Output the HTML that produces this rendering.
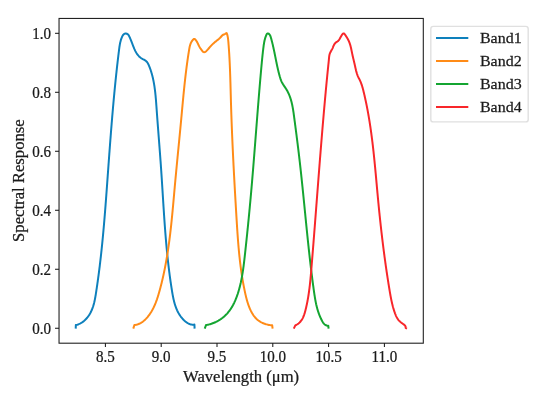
<!DOCTYPE html><html><head><meta charset="utf-8"><title>Spectral Response</title><style>html,body{margin:0;padding:0;background:#fff;width:550px;height:402px;overflow:hidden}svg{display:block}text{font-family:"Liberation Serif", "DejaVu Serif", serif;fill:#1a1a1a;stroke:#1a1a1a;stroke-width:0.25px}</style></head><body>
<svg width="550" height="402" viewBox="0 0 550 402">
<rect x="0" y="0" width="550" height="402" fill="#fff"/>
<g fill="none" stroke-width="2.00" stroke-linejoin="round" stroke-linecap="butt">
<path d="M75.70,328.60 L75.85,325.07 L76.56,324.89 L77.25,324.68 L77.93,324.45 L78.60,324.20 L79.25,323.92 L79.89,323.62 L80.51,323.30 L81.13,322.96 L81.72,322.60 L82.30,322.21 L82.87,321.81 L83.43,321.40 L83.97,320.96 L84.49,320.51 L85.01,320.04 L85.51,319.55 L85.99,319.06 L86.47,318.54 L86.92,318.02 L87.37,317.48 L87.80,316.93 L88.22,316.36 L88.62,315.79 L89.02,315.21 L89.39,314.62 L89.76,314.02 L90.11,313.41 L90.45,312.79 L90.77,312.17 L91.08,311.55 L91.38,310.91 L91.67,310.28 L91.94,309.64 L92.20,308.99 L92.45,308.34 L92.69,307.69 L92.92,307.03 L93.14,306.37 L93.34,305.71 L93.54,305.04 L93.73,304.37 L93.91,303.70 L94.09,303.03 L94.25,302.35 L94.41,301.67 L94.56,300.99 L94.71,300.31 L94.85,299.62 L94.98,298.93 L95.11,298.24 L95.24,297.55 L95.36,296.86 L95.48,296.17 L95.60,295.48 L95.71,294.79 L95.82,294.09 L95.93,293.40 L96.04,292.70 L96.15,292.01 L96.25,291.31 L96.36,290.62 L96.47,289.93 L96.57,289.23 L96.68,288.54 L96.78,287.84 L96.88,287.15 L96.99,286.45 L97.09,285.76 L97.19,285.07 L97.29,284.37 L97.39,283.68 L97.49,282.98 L97.59,282.29 L97.69,281.59 L97.78,280.90 L97.88,280.20 L97.98,279.51 L98.07,278.82 L98.17,278.12 L98.26,277.43 L98.35,276.73 L98.45,276.04 L98.54,275.34 L98.63,274.65 L98.72,273.95 L98.81,273.26 L98.90,272.56 L98.99,271.87 L99.08,271.17 L99.17,270.48 L99.26,269.79 L99.35,269.09 L99.43,268.40 L99.52,267.70 L99.61,267.01 L99.69,266.31 L99.78,265.62 L99.86,264.92 L99.94,264.23 L100.03,263.53 L100.11,262.84 L100.19,262.14 L100.27,261.45 L100.35,260.75 L100.43,260.06 L100.51,259.36 L100.59,258.67 L100.67,257.97 L100.75,257.28 L100.83,256.58 L100.91,255.89 L100.98,255.19 L101.06,254.50 L101.14,253.80 L101.21,253.11 L101.29,252.41 L101.36,251.72 L101.44,251.02 L101.51,250.33 L101.58,249.63 L101.66,248.94 L101.73,248.24 L101.80,247.55 L101.87,246.85 L101.95,246.16 L102.02,245.46 L102.09,244.77 L102.16,244.07 L102.23,243.38 L102.30,242.68 L102.36,241.98 L102.43,241.29 L102.50,240.59 L102.57,239.90 L102.64,239.20 L102.70,238.51 L102.77,237.81 L102.84,237.12 L102.90,236.42 L102.97,235.72 L103.03,235.03 L103.10,234.33 L103.16,233.64 L103.23,232.94 L103.29,232.25 L103.35,231.55 L103.42,230.86 L103.48,230.16 L103.54,229.46 L103.60,228.77 L103.67,228.07 L103.73,227.38 L103.79,226.68 L103.85,225.98 L103.91,225.29 L103.97,224.59 L104.03,223.90 L104.09,223.20 L104.15,222.50 L104.21,221.81 L104.27,221.11 L104.33,220.42 L104.39,219.72 L104.44,219.02 L104.50,218.33 L104.56,217.63 L104.62,216.94 L104.67,216.24 L104.73,215.54 L104.79,214.85 L104.84,214.15 L104.90,213.45 L104.96,212.76 L105.01,212.06 L105.07,211.36 L105.12,210.67 L105.18,209.97 L105.23,209.27 L105.29,208.58 L105.34,207.88 L105.40,207.18 L105.45,206.49 L105.51,205.79 L105.56,205.09 L105.61,204.40 L105.67,203.70 L105.72,203.00 L105.77,202.31 L105.83,201.61 L105.88,200.91 L105.93,200.22 L105.99,199.52 L106.04,198.82 L106.09,198.13 L106.14,197.43 L106.20,196.73 L106.25,196.03 L106.30,195.34 L106.35,194.64 L106.40,193.94 L106.46,193.25 L106.51,192.55 L106.56,191.85 L106.61,191.15 L106.66,190.46 L106.71,189.76 L106.76,189.06 L106.81,188.36 L106.86,187.67 L106.92,186.97 L106.97,186.27 L107.02,185.57 L107.07,184.88 L107.12,184.18 L107.17,183.48 L107.22,182.78 L107.27,182.08 L107.32,181.39 L107.37,180.69 L107.42,179.99 L107.47,179.29 L107.52,178.59 L107.57,177.90 L107.62,177.20 L107.67,176.50 L107.72,175.80 L107.77,175.10 L107.82,174.41 L107.88,173.71 L107.93,173.01 L107.98,172.31 L108.03,171.61 L108.08,170.91 L108.13,170.22 L108.18,169.52 L108.23,168.82 L108.28,168.12 L108.33,167.42 L108.38,166.72 L108.43,166.02 L108.48,165.33 L108.53,164.63 L108.58,163.93 L108.63,163.23 L108.69,162.53 L108.74,161.83 L108.79,161.13 L108.84,160.43 L108.89,159.73 L108.94,159.04 L108.99,158.34 L109.04,157.64 L109.09,156.94 L109.15,156.24 L109.20,155.54 L109.25,154.84 L109.30,154.14 L109.35,153.44 L109.40,152.75 L109.46,152.05 L109.51,151.35 L109.56,150.65 L109.61,149.95 L109.66,149.25 L109.72,148.55 L109.77,147.85 L109.82,147.15 L109.87,146.45 L109.93,145.76 L109.98,145.06 L110.03,144.36 L110.08,143.66 L110.14,142.96 L110.19,142.26 L110.24,141.56 L110.30,140.86 L110.35,140.16 L110.40,139.46 L110.46,138.77 L110.51,138.07 L110.57,137.37 L110.62,136.67 L110.67,135.97 L110.73,135.27 L110.78,134.57 L110.84,133.87 L110.89,133.17 L110.95,132.47 L111.00,131.78 L111.06,131.08 L111.11,130.38 L111.17,129.68 L111.22,128.98 L111.28,128.28 L111.34,127.58 L111.39,126.88 L111.45,126.19 L111.50,125.49 L111.56,124.79 L111.62,124.09 L111.67,123.39 L111.73,122.69 L111.79,121.99 L111.85,121.30 L111.90,120.60 L111.96,119.90 L112.02,119.20 L112.08,118.50 L112.14,117.80 L112.19,117.11 L112.25,116.41 L112.31,115.71 L112.37,115.01 L112.43,114.31 L112.49,113.61 L112.55,112.92 L112.61,112.22 L112.67,111.52 L112.73,110.82 L112.79,110.12 L112.85,109.43 L112.91,108.73 L112.97,108.03 L113.03,107.33 L113.09,106.64 L113.16,105.94 L113.22,105.24 L113.28,104.54 L113.34,103.85 L113.41,103.15 L113.47,102.45 L113.53,101.75 L113.59,101.06 L113.66,100.36 L113.72,99.66 L113.79,98.97 L113.85,98.27 L113.91,97.57 L113.98,96.88 L114.04,96.18 L114.11,95.48 L114.18,94.79 L114.24,94.09 L114.31,93.39 L114.37,92.70 L114.44,92.00 L114.51,91.30 L114.57,90.61 L114.64,89.91 L114.71,89.21 L114.78,88.52 L114.84,87.82 L114.91,87.13 L114.98,86.43 L115.05,85.74 L115.12,85.04 L115.19,84.34 L115.26,83.65 L115.33,82.95 L115.40,82.26 L115.47,81.56 L115.54,80.87 L115.61,80.17 L115.68,79.48 L115.76,78.78 L115.83,78.09 L115.90,77.39 L115.97,76.70 L116.05,76.01 L116.12,75.31 L116.19,74.62 L116.27,73.92 L116.34,73.23 L116.42,72.53 L116.49,71.84 L116.57,71.15 L116.64,70.45 L116.72,69.76 L116.80,69.07 L116.87,68.37 L116.95,67.68 L117.03,66.99 L117.10,66.29 L117.18,65.60 L117.26,64.91 L117.34,64.21 L117.42,63.52 L117.50,62.83 L117.58,62.14 L117.66,61.44 L117.74,60.75 L117.82,60.06 L117.90,59.37 L117.98,58.68 L118.06,57.98 L118.15,57.29 L118.23,56.60 L118.31,55.91 L118.39,55.22 L118.48,54.53 L118.56,53.84 L118.65,53.14 L118.73,52.45 L118.82,51.76 L118.90,51.07 L118.99,50.38 L119.08,49.69 L119.16,49.00 L119.25,48.31 L119.34,47.62 L119.44,46.93 L119.54,46.24 L119.65,45.55 L119.77,44.87 L119.89,44.18 L120.02,43.49 L120.17,42.80 L120.33,42.12 L120.50,41.43 L120.68,40.75 L120.88,40.06 L121.09,39.38 L121.33,38.70 L121.58,38.01 L121.85,37.33 L122.15,36.65 L122.47,35.99 L122.82,35.37 L123.22,34.81 L123.68,34.33 L124.19,33.95 L124.76,33.69 L125.41,33.56 L126.08,33.58 L126.75,33.72 L127.38,34.00 L127.94,34.40 L128.41,34.92 L128.81,35.53 L129.16,36.19 L129.48,36.86 L129.78,37.51 L130.06,38.16 L130.34,38.79 L130.61,39.42 L130.87,40.04 L131.12,40.67 L131.38,41.30 L131.62,41.94 L131.87,42.59 L132.12,43.24 L132.37,43.90 L132.62,44.56 L132.87,45.23 L133.12,45.89 L133.38,46.55 L133.65,47.22 L133.92,47.88 L134.20,48.53 L134.48,49.19 L134.78,49.83 L135.09,50.47 L135.40,51.10 L135.73,51.72 L136.07,52.33 L136.43,52.93 L136.80,53.51 L137.18,54.08 L137.59,54.63 L138.01,55.17 L138.44,55.69 L138.90,56.19 L139.38,56.67 L139.88,57.13 L140.40,57.56 L140.95,57.97 L141.52,58.36 L142.11,58.72 L142.72,59.06 L143.35,59.39 L143.97,59.72 L144.57,60.06 L145.16,60.41 L145.71,60.80 L146.22,61.23 L146.68,61.70 L147.10,62.21 L147.49,62.75 L147.85,63.32 L148.17,63.91 L148.48,64.52 L148.76,65.14 L149.03,65.78 L149.29,66.42 L149.55,67.06 L149.79,67.70 L150.03,68.35 L150.27,69.00 L150.50,69.65 L150.72,70.30 L150.93,70.95 L151.14,71.61 L151.34,72.27 L151.54,72.93 L151.73,73.59 L151.92,74.25 L152.10,74.92 L152.28,75.58 L152.45,76.25 L152.61,76.92 L152.77,77.59 L152.93,78.26 L153.08,78.94 L153.22,79.61 L153.36,80.29 L153.50,80.97 L153.63,81.65 L153.76,82.33 L153.88,83.01 L154.00,83.70 L154.12,84.38 L154.23,85.07 L154.34,85.75 L154.45,86.44 L154.55,87.13 L154.65,87.82 L154.74,88.51 L154.83,89.20 L154.92,89.90 L155.01,90.59 L155.09,91.28 L155.17,91.98 L155.25,92.68 L155.33,93.37 L155.40,94.07 L155.47,94.77 L155.54,95.47 L155.61,96.17 L155.67,96.87 L155.73,97.57 L155.80,98.27 L155.86,98.97 L155.92,99.67 L155.97,100.37 L156.03,101.07 L156.08,101.78 L156.14,102.48 L156.19,103.18 L156.24,103.88 L156.29,104.59 L156.35,105.29 L156.40,105.99 L156.45,106.70 L156.50,107.40 L156.55,108.10 L156.60,108.81 L156.65,109.51 L156.70,110.21 L156.75,110.92 L156.80,111.62 L156.85,112.32 L156.90,113.02 L156.95,113.73 L157.00,114.43 L157.06,115.13 L157.11,115.83 L157.16,116.53 L157.21,117.24 L157.26,117.94 L157.32,118.64 L157.37,119.34 L157.42,120.04 L157.47,120.74 L157.53,121.44 L157.58,122.14 L157.63,122.84 L157.69,123.54 L157.74,124.24 L157.79,124.94 L157.85,125.64 L157.90,126.34 L157.95,127.04 L158.01,127.74 L158.06,128.44 L158.11,129.14 L158.17,129.84 L158.22,130.54 L158.28,131.24 L158.33,131.94 L158.38,132.64 L158.44,133.34 L158.49,134.04 L158.54,134.74 L158.60,135.44 L158.65,136.13 L158.71,136.83 L158.76,137.53 L158.81,138.23 L158.87,138.93 L158.92,139.63 L158.98,140.33 L159.03,141.02 L159.08,141.72 L159.14,142.42 L159.19,143.12 L159.25,143.82 L159.30,144.51 L159.35,145.21 L159.41,145.91 L159.46,146.61 L159.51,147.30 L159.57,148.00 L159.62,148.70 L159.67,149.40 L159.73,150.09 L159.78,150.79 L159.83,151.49 L159.88,152.18 L159.94,152.88 L159.99,153.58 L160.04,154.28 L160.09,154.97 L160.14,155.67 L160.20,156.37 L160.25,157.06 L160.30,157.76 L160.35,158.46 L160.40,159.15 L160.45,159.85 L160.50,160.55 L160.56,161.24 L160.61,161.94 L160.66,162.64 L160.71,163.33 L160.76,164.03 L160.81,164.73 L160.86,165.42 L160.90,166.12 L160.95,166.82 L161.00,167.51 L161.05,168.21 L161.10,168.91 L161.15,169.60 L161.19,170.30 L161.24,171.00 L161.29,171.69 L161.34,172.39 L161.38,173.09 L161.43,173.78 L161.48,174.48 L161.52,175.18 L161.57,175.87 L161.62,176.57 L161.66,177.27 L161.71,177.96 L161.75,178.66 L161.80,179.35 L161.84,180.05 L161.89,180.75 L161.93,181.44 L161.98,182.14 L162.02,182.84 L162.06,183.53 L162.11,184.23 L162.15,184.93 L162.20,185.62 L162.24,186.32 L162.29,187.02 L162.33,187.71 L162.37,188.41 L162.42,189.11 L162.46,189.80 L162.50,190.50 L162.55,191.19 L162.59,191.89 L162.63,192.59 L162.68,193.28 L162.72,193.98 L162.76,194.68 L162.81,195.37 L162.85,196.07 L162.89,196.77 L162.94,197.46 L162.98,198.16 L163.03,198.86 L163.07,199.55 L163.11,200.25 L163.16,200.95 L163.20,201.64 L163.24,202.34 L163.29,203.03 L163.33,203.73 L163.38,204.43 L163.42,205.12 L163.46,205.82 L163.51,206.52 L163.55,207.21 L163.60,207.91 L163.64,208.61 L163.69,209.30 L163.73,210.00 L163.78,210.70 L163.83,211.39 L163.87,212.09 L163.92,212.79 L163.96,213.48 L164.01,214.18 L164.06,214.88 L164.10,215.57 L164.15,216.27 L164.20,216.97 L164.24,217.66 L164.29,218.36 L164.34,219.06 L164.39,219.75 L164.44,220.45 L164.49,221.15 L164.53,221.84 L164.58,222.54 L164.63,223.24 L164.68,223.93 L164.73,224.63 L164.78,225.33 L164.83,226.02 L164.89,226.72 L164.94,227.42 L164.99,228.11 L165.04,228.81 L165.09,229.51 L165.15,230.20 L165.20,230.90 L165.25,231.60 L165.31,232.29 L165.36,232.99 L165.42,233.69 L165.47,234.38 L165.53,235.08 L165.59,235.78 L165.64,236.47 L165.70,237.17 L165.76,237.87 L165.81,238.57 L165.87,239.26 L165.93,239.96 L165.99,240.66 L166.05,241.35 L166.11,242.05 L166.17,242.75 L166.23,243.44 L166.30,244.14 L166.36,244.84 L166.42,245.53 L166.48,246.23 L166.55,246.93 L166.61,247.63 L166.68,248.32 L166.74,249.02 L166.81,249.72 L166.88,250.41 L166.94,251.11 L167.01,251.81 L167.08,252.51 L167.15,253.20 L167.22,253.90 L167.29,254.60 L167.36,255.29 L167.43,255.99 L167.51,256.69 L167.58,257.39 L167.65,258.08 L167.73,258.78 L167.80,259.48 L167.88,260.18 L167.95,260.87 L168.03,261.57 L168.11,262.27 L168.19,262.97 L168.27,263.66 L168.35,264.36 L168.43,265.06 L168.51,265.76 L168.59,266.45 L168.67,267.15 L168.76,267.85 L168.84,268.55 L168.93,269.24 L169.01,269.94 L169.10,270.64 L169.19,271.34 L169.28,272.03 L169.36,272.73 L169.45,273.43 L169.55,274.13 L169.64,274.82 L169.73,275.52 L169.82,276.22 L169.92,276.92 L170.01,277.62 L170.11,278.31 L170.21,279.01 L170.30,279.71 L170.40,280.41 L170.50,281.11 L170.60,281.80 L170.70,282.50 L170.81,283.20 L170.91,283.90 L171.01,284.60 L171.12,285.29 L171.22,285.99 L171.33,286.69 L171.44,287.39 L171.55,288.09 L171.66,288.78 L171.77,289.48 L171.88,290.18 L171.99,290.88 L172.11,291.58 L172.22,292.27 L172.34,292.97 L172.46,293.67 L172.58,294.36 L172.71,295.06 L172.84,295.75 L172.97,296.44 L173.11,297.13 L173.25,297.82 L173.39,298.51 L173.54,299.20 L173.70,299.88 L173.86,300.56 L174.03,301.24 L174.20,301.91 L174.38,302.58 L174.56,303.25 L174.75,303.92 L174.95,304.58 L175.16,305.24 L175.38,305.89 L175.60,306.54 L175.83,307.19 L176.07,307.83 L176.32,308.47 L176.58,309.10 L176.85,309.73 L177.13,310.35 L177.43,310.97 L177.73,311.58 L178.04,312.18 L178.36,312.78 L178.70,313.38 L179.05,313.97 L179.41,314.55 L179.78,315.13 L180.17,315.69 L180.57,316.26 L180.98,316.81 L181.41,317.36 L181.85,317.90 L182.30,318.43 L182.78,318.96 L183.26,319.48 L183.76,319.99 L184.28,320.49 L184.81,320.97 L185.36,321.44 L185.92,321.89 L186.50,322.31 L187.09,322.71 L187.69,323.09 L188.31,323.43 L188.94,323.73 L189.58,324.00 L190.23,324.23 L190.90,324.42 L191.58,324.56 L192.27,324.65 L192.98,324.70 L193.69,324.68 L194.42,324.61 L194.60,328.60" stroke="#0e80bc"/>
<path d="M133.30,328.60 L134.38,325.01 L135.11,324.93 L135.82,324.82 L136.51,324.67 L137.20,324.50 L137.87,324.29 L138.52,324.05 L139.17,323.79 L139.79,323.50 L140.41,323.18 L141.01,322.84 L141.61,322.48 L142.18,322.10 L142.75,321.69 L143.30,321.27 L143.85,320.82 L144.38,320.36 L144.89,319.89 L145.40,319.40 L145.90,318.90 L146.38,318.38 L146.85,317.86 L147.32,317.33 L147.77,316.78 L148.21,316.24 L148.64,315.68 L149.06,315.12 L149.47,314.55 L149.87,313.98 L150.26,313.41 L150.64,312.82 L151.01,312.24 L151.37,311.64 L151.73,311.05 L152.07,310.44 L152.41,309.84 L152.74,309.22 L153.06,308.61 L153.38,307.99 L153.68,307.36 L153.98,306.74 L154.27,306.11 L154.56,305.47 L154.84,304.83 L155.11,304.19 L155.38,303.54 L155.64,302.90 L155.89,302.24 L156.14,301.59 L156.38,300.93 L156.62,300.28 L156.86,299.61 L157.08,298.95 L157.31,298.29 L157.53,297.62 L157.75,296.95 L157.96,296.28 L158.17,295.61 L158.37,294.93 L158.57,294.26 L158.77,293.58 L158.97,292.91 L159.16,292.23 L159.35,291.55 L159.54,290.87 L159.73,290.19 L159.92,289.51 L160.10,288.83 L160.28,288.15 L160.46,287.47 L160.64,286.79 L160.82,286.11 L160.99,285.43 L161.17,284.75 L161.34,284.07 L161.51,283.39 L161.68,282.71 L161.84,282.03 L162.01,281.35 L162.17,280.66 L162.33,279.98 L162.49,279.30 L162.65,278.61 L162.81,277.93 L162.96,277.25 L163.12,276.56 L163.27,275.88 L163.42,275.20 L163.57,274.51 L163.72,273.83 L163.87,273.14 L164.01,272.46 L164.15,271.77 L164.30,271.09 L164.44,270.40 L164.58,269.72 L164.71,269.03 L164.85,268.34 L164.98,267.66 L165.12,266.97 L165.25,266.28 L165.38,265.60 L165.51,264.91 L165.64,264.22 L165.77,263.54 L165.89,262.85 L166.02,262.16 L166.14,261.47 L166.26,260.78 L166.38,260.09 L166.50,259.41 L166.62,258.72 L166.74,258.03 L166.85,257.34 L166.97,256.65 L167.08,255.96 L167.19,255.27 L167.30,254.58 L167.41,253.89 L167.52,253.20 L167.63,252.51 L167.74,251.82 L167.84,251.13 L167.95,250.44 L168.05,249.75 L168.15,249.06 L168.26,248.36 L168.36,247.67 L168.46,246.98 L168.55,246.29 L168.65,245.60 L168.75,244.91 L168.84,244.21 L168.94,243.52 L169.03,242.83 L169.13,242.14 L169.22,241.44 L169.31,240.75 L169.40,240.06 L169.49,239.37 L169.58,238.67 L169.67,237.98 L169.75,237.29 L169.84,236.59 L169.92,235.90 L170.01,235.20 L170.09,234.51 L170.18,233.82 L170.26,233.12 L170.34,232.43 L170.42,231.73 L170.50,231.04 L170.58,230.34 L170.66,229.65 L170.74,228.95 L170.82,228.26 L170.89,227.56 L170.97,226.87 L171.05,226.17 L171.12,225.48 L171.20,224.78 L171.27,224.09 L171.34,223.39 L171.42,222.70 L171.49,222.00 L171.56,221.31 L171.63,220.61 L171.70,219.91 L171.77,219.22 L171.84,218.52 L171.91,217.83 L171.98,217.13 L172.05,216.43 L172.12,215.74 L172.19,215.04 L172.26,214.34 L172.32,213.65 L172.39,212.95 L172.46,212.25 L172.52,211.56 L172.59,210.86 L172.65,210.16 L172.72,209.47 L172.78,208.77 L172.85,208.07 L172.91,207.37 L172.98,206.68 L173.04,205.98 L173.11,205.28 L173.17,204.59 L173.23,203.89 L173.30,203.19 L173.36,202.49 L173.42,201.80 L173.48,201.10 L173.55,200.40 L173.61,199.70 L173.67,199.01 L173.73,198.31 L173.80,197.61 L173.86,196.91 L173.92,196.22 L173.98,195.52 L174.05,194.82 L174.11,194.12 L174.17,193.42 L174.23,192.73 L174.29,192.03 L174.36,191.33 L174.42,190.63 L174.48,189.94 L174.54,189.24 L174.61,188.54 L174.67,187.84 L174.73,187.15 L174.79,186.45 L174.86,185.75 L174.92,185.05 L174.98,184.35 L175.05,183.66 L175.11,182.96 L175.18,182.26 L175.24,181.56 L175.30,180.87 L175.37,180.17 L175.43,179.47 L175.50,178.77 L175.56,178.08 L175.63,177.38 L175.69,176.68 L175.76,175.98 L175.82,175.29 L175.89,174.59 L175.95,173.89 L176.02,173.19 L176.09,172.50 L176.15,171.80 L176.22,171.10 L176.28,170.40 L176.35,169.71 L176.42,169.01 L176.48,168.31 L176.55,167.61 L176.62,166.92 L176.68,166.22 L176.75,165.52 L176.82,164.82 L176.89,164.13 L176.95,163.43 L177.02,162.73 L177.09,162.03 L177.16,161.34 L177.22,160.64 L177.29,159.94 L177.36,159.25 L177.43,158.55 L177.49,157.85 L177.56,157.15 L177.63,156.46 L177.70,155.76 L177.76,155.06 L177.83,154.37 L177.90,153.67 L177.97,152.97 L178.04,152.27 L178.10,151.58 L178.17,150.88 L178.24,150.18 L178.31,149.49 L178.38,148.79 L178.44,148.09 L178.51,147.40 L178.58,146.70 L178.65,146.00 L178.72,145.31 L178.78,144.61 L178.85,143.91 L178.92,143.22 L178.99,142.52 L179.06,141.82 L179.12,141.13 L179.19,140.43 L179.26,139.73 L179.33,139.04 L179.39,138.34 L179.46,137.64 L179.53,136.95 L179.60,136.25 L179.66,135.55 L179.73,134.86 L179.80,134.16 L179.87,133.46 L179.93,132.77 L180.00,132.07 L180.07,131.37 L180.13,130.68 L180.20,129.98 L180.27,129.29 L180.33,128.59 L180.40,127.89 L180.47,127.20 L180.53,126.50 L180.60,125.80 L180.66,125.11 L180.73,124.41 L180.80,123.72 L180.86,123.02 L180.93,122.32 L180.99,121.63 L181.06,120.93 L181.12,120.24 L181.19,119.54 L181.25,118.84 L181.32,118.15 L181.38,117.45 L181.45,116.76 L181.51,116.06 L181.58,115.37 L181.64,114.67 L181.70,113.97 L181.77,113.28 L181.83,112.58 L181.90,111.89 L181.96,111.19 L182.02,110.50 L182.09,109.80 L182.15,109.10 L182.22,108.41 L182.28,107.71 L182.35,107.02 L182.41,106.32 L182.47,105.63 L182.54,104.93 L182.60,104.24 L182.67,103.54 L182.73,102.85 L182.80,102.15 L182.86,101.45 L182.93,100.76 L183.00,100.06 L183.06,99.37 L183.13,98.67 L183.20,97.98 L183.26,97.28 L183.33,96.59 L183.40,95.89 L183.46,95.20 L183.53,94.50 L183.60,93.81 L183.67,93.11 L183.74,92.42 L183.81,91.72 L183.88,91.03 L183.95,90.33 L184.02,89.64 L184.09,88.94 L184.16,88.25 L184.23,87.55 L184.30,86.86 L184.38,86.16 L184.45,85.47 L184.52,84.77 L184.60,84.07 L184.67,83.38 L184.75,82.68 L184.82,81.99 L184.90,81.29 L184.97,80.60 L185.05,79.90 L185.13,79.21 L185.21,78.51 L185.29,77.82 L185.37,77.12 L185.45,76.43 L185.53,75.73 L185.61,75.04 L185.69,74.34 L185.77,73.65 L185.86,72.95 L185.94,72.26 L186.03,71.56 L186.11,70.87 L186.20,70.17 L186.29,69.48 L186.37,68.78 L186.46,68.09 L186.55,67.39 L186.64,66.70 L186.73,66.00 L186.83,65.31 L186.92,64.61 L187.01,63.92 L187.11,63.22 L187.20,62.53 L187.30,61.83 L187.40,61.14 L187.50,60.44 L187.59,59.75 L187.69,59.05 L187.80,58.36 L187.90,57.66 L188.00,56.97 L188.11,56.27 L188.21,55.57 L188.32,54.88 L188.42,54.18 L188.53,53.49 L188.64,52.79 L188.75,52.10 L188.86,51.40 L188.98,50.71 L189.09,50.01 L189.20,49.32 L189.32,48.62 L189.45,47.93 L189.58,47.24 L189.73,46.56 L189.90,45.88 L190.08,45.21 L190.28,44.55 L190.51,43.90 L190.76,43.26 L191.05,42.63 L191.37,42.01 L191.72,41.41 L192.12,40.82 L192.55,40.25 L193.03,39.70 L193.55,39.20 L194.10,38.89 L194.66,38.96 L195.20,39.38 L195.71,39.98 L196.18,40.61 L196.60,41.23 L196.98,41.86 L197.33,42.49 L197.65,43.11 L197.96,43.73 L198.25,44.35 L198.54,44.96 L198.84,45.57 L199.14,46.18 L199.45,46.77 L199.79,47.36 L200.15,47.95 L200.54,48.52 L200.95,49.10 L201.38,49.69 L201.82,50.29 L202.25,50.90 L202.71,51.49 L203.23,51.93 L203.83,52.15 L204.49,52.15 L205.14,51.95 L205.73,51.60 L206.27,51.15 L206.76,50.63 L207.24,50.10 L207.71,49.57 L208.18,49.04 L208.64,48.50 L209.11,47.97 L209.57,47.44 L210.03,46.91 L210.50,46.39 L210.97,45.87 L211.44,45.36 L211.92,44.86 L212.41,44.37 L212.91,43.89 L213.42,43.41 L213.94,42.95 L214.47,42.50 L215.00,42.05 L215.54,41.61 L216.08,41.17 L216.63,40.73 L217.18,40.29 L217.73,39.85 L218.27,39.41 L218.82,38.96 L219.35,38.50 L219.87,38.03 L220.37,37.55 L220.83,37.04 L221.27,36.51 L221.71,35.99 L222.16,35.50 L222.65,35.07 L223.21,34.71 L223.85,34.46 L224.57,34.24 L225.29,33.84 L225.94,33.32 L226.45,33.06 L226.79,33.36 L227.02,33.98 L227.22,34.63 L227.40,35.29 L227.56,35.96 L227.70,36.64 L227.83,37.32 L227.94,38.00 L228.03,38.69 L228.12,39.39 L228.20,40.08 L228.26,40.78 L228.33,41.48 L228.39,42.19 L228.45,42.89 L228.50,43.59 L228.56,44.29 L228.61,44.99 L228.67,45.69 L228.72,46.40 L228.77,47.10 L228.82,47.80 L228.87,48.50 L228.92,49.20 L228.97,49.90 L229.02,50.60 L229.06,51.30 L229.11,52.01 L229.15,52.71 L229.20,53.41 L229.24,54.11 L229.28,54.81 L229.32,55.51 L229.36,56.21 L229.40,56.91 L229.44,57.61 L229.48,58.31 L229.51,59.01 L229.55,59.71 L229.58,60.41 L229.62,61.11 L229.65,61.81 L229.69,62.51 L229.72,63.21 L229.75,63.91 L229.78,64.61 L229.81,65.31 L229.84,66.01 L229.87,66.71 L229.90,67.41 L229.93,68.11 L229.96,68.81 L229.98,69.51 L230.01,70.21 L230.04,70.91 L230.06,71.61 L230.09,72.31 L230.11,73.01 L230.14,73.71 L230.16,74.41 L230.19,75.11 L230.21,75.81 L230.23,76.51 L230.26,77.20 L230.28,77.90 L230.30,78.60 L230.32,79.30 L230.34,80.00 L230.36,80.70 L230.38,81.40 L230.41,82.10 L230.43,82.80 L230.45,83.50 L230.47,84.20 L230.49,84.89 L230.50,85.59 L230.52,86.29 L230.54,86.99 L230.56,87.69 L230.58,88.39 L230.60,89.09 L230.62,89.79 L230.64,90.49 L230.66,91.18 L230.68,91.88 L230.69,92.58 L230.71,93.28 L230.73,93.98 L230.75,94.68 L230.77,95.38 L230.79,96.08 L230.81,96.77 L230.83,97.47 L230.85,98.17 L230.86,98.87 L230.88,99.57 L230.90,100.27 L230.92,100.97 L230.94,101.67 L230.96,102.36 L230.98,103.06 L231.00,103.76 L231.03,104.46 L231.05,105.16 L231.07,105.86 L231.09,106.56 L231.11,107.26 L231.13,107.95 L231.15,108.65 L231.18,109.35 L231.20,110.05 L231.22,110.75 L231.24,111.45 L231.27,112.15 L231.29,112.85 L231.31,113.54 L231.34,114.24 L231.36,114.94 L231.39,115.64 L231.41,116.34 L231.44,117.04 L231.46,117.74 L231.48,118.44 L231.51,119.13 L231.54,119.83 L231.56,120.53 L231.59,121.23 L231.61,121.93 L231.64,122.63 L231.66,123.33 L231.69,124.03 L231.72,124.72 L231.74,125.42 L231.77,126.12 L231.80,126.82 L231.83,127.52 L231.85,128.22 L231.88,128.92 L231.91,129.62 L231.94,130.32 L231.97,131.01 L231.99,131.71 L232.02,132.41 L232.05,133.11 L232.08,133.81 L232.11,134.51 L232.14,135.21 L232.17,135.91 L232.20,136.61 L232.23,137.30 L232.26,138.00 L232.29,138.70 L232.32,139.40 L232.35,140.10 L232.38,140.80 L232.41,141.50 L232.44,142.20 L232.47,142.90 L232.50,143.59 L232.53,144.29 L232.57,144.99 L232.60,145.69 L232.63,146.39 L232.66,147.09 L232.69,147.79 L232.73,148.49 L232.76,149.19 L232.79,149.88 L232.82,150.58 L232.86,151.28 L232.89,151.98 L232.92,152.68 L232.96,153.38 L232.99,154.08 L233.02,154.78 L233.06,155.48 L233.09,156.18 L233.12,156.88 L233.16,157.57 L233.19,158.27 L233.23,158.97 L233.26,159.67 L233.30,160.37 L233.33,161.07 L233.37,161.77 L233.40,162.47 L233.44,163.17 L233.47,163.87 L233.51,164.57 L233.54,165.26 L233.58,165.96 L233.62,166.66 L233.65,167.36 L233.69,168.06 L233.72,168.76 L233.76,169.46 L233.80,170.16 L233.83,170.86 L233.87,171.56 L233.91,172.26 L233.94,172.96 L233.98,173.65 L234.02,174.35 L234.05,175.05 L234.09,175.75 L234.13,176.45 L234.17,177.15 L234.21,177.85 L234.24,178.55 L234.28,179.25 L234.32,179.95 L234.36,180.65 L234.40,181.35 L234.43,182.05 L234.47,182.74 L234.51,183.44 L234.55,184.14 L234.59,184.84 L234.63,185.54 L234.67,186.24 L234.70,186.94 L234.74,187.64 L234.78,188.34 L234.82,189.04 L234.86,189.74 L234.90,190.44 L234.94,191.14 L234.98,191.84 L235.02,192.54 L235.06,193.24 L235.10,193.94 L235.14,194.63 L235.18,195.33 L235.22,196.03 L235.26,196.73 L235.30,197.43 L235.34,198.13 L235.38,198.83 L235.42,199.53 L235.46,200.23 L235.50,200.93 L235.54,201.63 L235.59,202.33 L235.63,203.03 L235.67,203.73 L235.71,204.43 L235.75,205.13 L235.79,205.83 L235.83,206.53 L235.87,207.23 L235.91,207.93 L235.96,208.63 L236.00,209.33 L236.04,210.03 L236.08,210.73 L236.12,211.43 L236.16,212.13 L236.21,212.83 L236.25,213.53 L236.29,214.22 L236.33,214.92 L236.37,215.62 L236.42,216.32 L236.46,217.02 L236.50,217.72 L236.54,218.42 L236.58,219.12 L236.63,219.82 L236.67,220.52 L236.71,221.22 L236.76,221.92 L236.80,222.62 L236.84,223.32 L236.89,224.02 L236.93,224.72 L236.97,225.42 L237.02,226.12 L237.06,226.82 L237.11,227.52 L237.15,228.22 L237.20,228.92 L237.25,229.62 L237.29,230.32 L237.34,231.02 L237.39,231.72 L237.43,232.42 L237.48,233.12 L237.53,233.82 L237.58,234.51 L237.63,235.21 L237.68,235.91 L237.73,236.61 L237.78,237.31 L237.83,238.01 L237.88,238.71 L237.94,239.41 L237.99,240.10 L238.04,240.80 L238.10,241.50 L238.15,242.20 L238.21,242.90 L238.27,243.59 L238.32,244.29 L238.38,244.99 L238.44,245.69 L238.50,246.38 L238.56,247.08 L238.62,247.78 L238.68,248.48 L238.75,249.17 L238.81,249.87 L238.88,250.57 L238.94,251.26 L239.01,251.96 L239.07,252.66 L239.14,253.35 L239.21,254.05 L239.28,254.74 L239.35,255.44 L239.42,256.13 L239.50,256.83 L239.57,257.52 L239.65,258.22 L239.72,258.91 L239.80,259.61 L239.88,260.30 L239.96,261.00 L240.04,261.69 L240.12,262.38 L240.20,263.08 L240.29,263.77 L240.37,264.46 L240.46,265.16 L240.55,265.85 L240.63,266.54 L240.72,267.23 L240.82,267.93 L240.91,268.62 L241.00,269.31 L241.10,270.00 L241.19,270.69 L241.29,271.38 L241.39,272.07 L241.49,272.76 L241.59,273.45 L241.70,274.14 L241.80,274.83 L241.91,275.52 L242.02,276.21 L242.13,276.90 L242.24,277.59 L242.35,278.28 L242.46,278.97 L242.58,279.65 L242.69,280.34 L242.81,281.03 L242.93,281.72 L243.05,282.40 L243.18,283.09 L243.30,283.78 L243.43,284.46 L243.56,285.15 L243.69,285.83 L243.82,286.52 L243.95,287.20 L244.09,287.89 L244.23,288.57 L244.37,289.25 L244.51,289.94 L244.65,290.62 L244.79,291.30 L244.94,291.98 L245.09,292.67 L245.24,293.35 L245.39,294.03 L245.54,294.71 L245.70,295.39 L245.86,296.07 L246.02,296.75 L246.19,297.43 L246.36,298.10 L246.54,298.78 L246.72,299.46 L246.91,300.13 L247.10,300.80 L247.29,301.47 L247.49,302.14 L247.70,302.81 L247.92,303.48 L248.14,304.15 L248.37,304.81 L248.61,305.47 L248.85,306.13 L249.10,306.79 L249.36,307.45 L249.63,308.10 L249.91,308.76 L250.20,309.40 L250.50,310.05 L250.80,310.69 L251.12,311.33 L251.45,311.96 L251.79,312.58 L252.14,313.20 L252.51,313.80 L252.88,314.40 L253.27,314.99 L253.67,315.56 L254.09,316.13 L254.52,316.68 L254.96,317.22 L255.42,317.74 L255.89,318.25 L256.38,318.75 L256.88,319.22 L257.40,319.68 L257.93,320.12 L258.48,320.55 L259.05,320.95 L259.63,321.33 L260.22,321.70 L260.83,322.05 L261.44,322.38 L262.07,322.70 L262.71,323.00 L263.35,323.27 L264.01,323.54 L264.67,323.78 L265.34,324.01 L266.01,324.22 L266.69,324.41 L267.37,324.59 L268.06,324.75 L268.75,324.90 L269.44,325.02 L270.13,325.13 L270.82,325.23 L271.51,325.31 L272.20,325.37 L272.60,328.60" stroke="#ff8b17"/>
<path d="M204.70,328.60 L206.02,325.09 L206.69,324.97 L207.37,324.85 L208.04,324.70 L208.72,324.55 L209.39,324.38 L210.06,324.19 L210.73,323.99 L211.39,323.78 L212.05,323.55 L212.71,323.31 L213.37,323.06 L214.02,322.79 L214.67,322.51 L215.31,322.22 L215.95,321.92 L216.59,321.60 L217.21,321.28 L217.84,320.94 L218.45,320.59 L219.06,320.22 L219.66,319.85 L220.25,319.46 L220.84,319.07 L221.42,318.66 L221.99,318.25 L222.55,317.82 L223.10,317.38 L223.64,316.94 L224.17,316.48 L224.69,316.02 L225.20,315.54 L225.70,315.06 L226.19,314.57 L226.67,314.07 L227.14,313.56 L227.59,313.04 L228.04,312.51 L228.48,311.98 L228.91,311.44 L229.33,310.89 L229.74,310.34 L230.14,309.78 L230.53,309.21 L230.91,308.63 L231.28,308.05 L231.65,307.46 L232.01,306.87 L232.36,306.27 L232.70,305.67 L233.03,305.06 L233.36,304.44 L233.67,303.82 L233.98,303.20 L234.29,302.57 L234.58,301.94 L234.87,301.30 L235.16,300.66 L235.43,300.02 L235.70,299.37 L235.96,298.72 L236.22,298.07 L236.47,297.41 L236.72,296.76 L236.96,296.10 L237.19,295.43 L237.42,294.77 L237.65,294.10 L237.86,293.44 L238.08,292.77 L238.29,292.10 L238.49,291.43 L238.69,290.76 L238.89,290.08 L239.08,289.41 L239.27,288.74 L239.45,288.06 L239.63,287.38 L239.81,286.71 L239.98,286.03 L240.14,285.35 L240.31,284.67 L240.47,283.99 L240.62,283.31 L240.78,282.63 L240.92,281.94 L241.07,281.26 L241.21,280.57 L241.35,279.89 L241.49,279.20 L241.62,278.52 L241.75,277.83 L241.88,277.14 L242.00,276.45 L242.12,275.77 L242.24,275.08 L242.36,274.39 L242.47,273.70 L242.58,273.00 L242.69,272.31 L242.80,271.62 L242.91,270.93 L243.01,270.24 L243.11,269.54 L243.21,268.85 L243.30,268.15 L243.40,267.46 L243.49,266.77 L243.58,266.07 L243.67,265.38 L243.76,264.68 L243.85,263.98 L243.94,263.29 L244.02,262.59 L244.10,261.90 L244.19,261.20 L244.27,260.50 L244.35,259.81 L244.43,259.11 L244.51,258.41 L244.59,257.72 L244.67,257.02 L244.74,256.32 L244.82,255.62 L244.90,254.93 L244.97,254.23 L245.05,253.53 L245.13,252.84 L245.20,252.14 L245.28,251.44 L245.36,250.75 L245.43,250.05 L245.51,249.35 L245.58,248.66 L245.66,247.96 L245.73,247.26 L245.81,246.57 L245.88,245.87 L245.96,245.17 L246.03,244.48 L246.10,243.78 L246.18,243.08 L246.25,242.39 L246.33,241.69 L246.40,241.00 L246.47,240.30 L246.55,239.60 L246.62,238.91 L246.69,238.21 L246.77,237.51 L246.84,236.82 L246.91,236.12 L246.98,235.43 L247.05,234.73 L247.13,234.03 L247.20,233.34 L247.27,232.64 L247.34,231.95 L247.41,231.25 L247.48,230.56 L247.55,229.86 L247.62,229.16 L247.70,228.47 L247.77,227.77 L247.84,227.08 L247.91,226.38 L247.98,225.69 L248.05,224.99 L248.12,224.29 L248.18,223.60 L248.25,222.90 L248.32,222.21 L248.39,221.51 L248.46,220.82 L248.53,220.12 L248.60,219.42 L248.67,218.73 L248.73,218.03 L248.80,217.34 L248.87,216.64 L248.94,215.95 L249.00,215.25 L249.07,214.55 L249.14,213.86 L249.21,213.16 L249.27,212.47 L249.34,211.77 L249.40,211.08 L249.47,210.38 L249.54,209.69 L249.60,208.99 L249.67,208.29 L249.73,207.60 L249.80,206.90 L249.86,206.21 L249.93,205.51 L249.99,204.81 L250.06,204.12 L250.12,203.42 L250.19,202.73 L250.25,202.03 L250.32,201.34 L250.38,200.64 L250.44,199.94 L250.51,199.25 L250.57,198.55 L250.63,197.86 L250.70,197.16 L250.76,196.46 L250.82,195.77 L250.88,195.07 L250.95,194.37 L251.01,193.68 L251.07,192.98 L251.13,192.29 L251.19,191.59 L251.25,190.89 L251.31,190.20 L251.38,189.50 L251.44,188.80 L251.50,188.11 L251.56,187.41 L251.62,186.71 L251.68,186.02 L251.74,185.32 L251.80,184.62 L251.86,183.93 L251.92,183.23 L251.98,182.53 L252.04,181.84 L252.10,181.14 L252.15,180.44 L252.21,179.75 L252.27,179.05 L252.33,178.35 L252.39,177.66 L252.45,176.96 L252.51,176.26 L252.56,175.57 L252.62,174.87 L252.68,174.17 L252.74,173.47 L252.80,172.78 L252.85,172.08 L252.91,171.38 L252.97,170.68 L253.03,169.99 L253.08,169.29 L253.14,168.59 L253.20,167.90 L253.25,167.20 L253.31,166.50 L253.37,165.80 L253.42,165.11 L253.48,164.41 L253.54,163.71 L253.59,163.01 L253.65,162.32 L253.70,161.62 L253.76,160.92 L253.82,160.22 L253.87,159.53 L253.93,158.83 L253.98,158.13 L254.04,157.43 L254.09,156.74 L254.15,156.04 L254.20,155.34 L254.26,154.64 L254.31,153.95 L254.37,153.25 L254.42,152.55 L254.48,151.85 L254.53,151.15 L254.59,150.46 L254.64,149.76 L254.70,149.06 L254.75,148.36 L254.81,147.67 L254.86,146.97 L254.92,146.27 L254.97,145.57 L255.03,144.88 L255.08,144.18 L255.14,143.48 L255.19,142.78 L255.25,142.08 L255.30,141.39 L255.35,140.69 L255.41,139.99 L255.46,139.29 L255.52,138.59 L255.57,137.90 L255.63,137.20 L255.68,136.50 L255.73,135.80 L255.79,135.11 L255.84,134.41 L255.90,133.71 L255.95,133.01 L256.01,132.31 L256.06,131.62 L256.11,130.92 L256.17,130.22 L256.22,129.52 L256.28,128.82 L256.33,128.13 L256.39,127.43 L256.44,126.73 L256.50,126.03 L256.55,125.34 L256.60,124.64 L256.66,123.94 L256.71,123.24 L256.77,122.54 L256.82,121.85 L256.88,121.15 L256.93,120.45 L256.99,119.75 L257.04,119.05 L257.10,118.36 L257.15,117.66 L257.20,116.96 L257.26,116.26 L257.31,115.57 L257.37,114.87 L257.42,114.17 L257.48,113.47 L257.53,112.78 L257.59,112.08 L257.65,111.38 L257.70,110.68 L257.76,109.98 L257.81,109.29 L257.87,108.59 L257.92,107.89 L257.98,107.19 L258.03,106.50 L258.09,105.80 L258.15,105.10 L258.20,104.40 L258.26,103.71 L258.31,103.01 L258.37,102.31 L258.43,101.61 L258.48,100.92 L258.54,100.22 L258.60,99.52 L258.65,98.82 L258.71,98.13 L258.77,97.43 L258.82,96.73 L258.88,96.03 L258.94,95.34 L259.00,94.64 L259.05,93.94 L259.11,93.25 L259.17,92.55 L259.23,91.85 L259.28,91.15 L259.34,90.46 L259.40,89.76 L259.46,89.06 L259.52,88.37 L259.58,87.67 L259.63,86.97 L259.69,86.28 L259.75,85.58 L259.81,84.88 L259.87,84.18 L259.93,83.49 L259.99,82.79 L260.05,82.09 L260.11,81.40 L260.17,80.70 L260.23,80.00 L260.29,79.31 L260.35,78.61 L260.41,77.91 L260.47,77.22 L260.53,76.52 L260.59,75.82 L260.65,75.13 L260.72,74.43 L260.78,73.74 L260.84,73.04 L260.90,72.34 L260.96,71.65 L261.03,70.95 L261.09,70.25 L261.15,69.56 L261.21,68.86 L261.28,68.17 L261.34,67.47 L261.40,66.77 L261.47,66.08 L261.53,65.38 L261.60,64.69 L261.66,63.99 L261.73,63.29 L261.79,62.60 L261.86,61.90 L261.92,61.21 L261.99,60.51 L262.06,59.81 L262.13,59.12 L262.20,58.42 L262.27,57.73 L262.34,57.03 L262.41,56.33 L262.48,55.64 L262.56,54.94 L262.63,54.24 L262.71,53.55 L262.79,52.85 L262.86,52.16 L262.94,51.46 L263.02,50.76 L263.10,50.06 L263.19,49.37 L263.27,48.67 L263.36,47.97 L263.44,47.28 L263.53,46.58 L263.62,45.88 L263.72,45.19 L263.82,44.49 L263.93,43.79 L264.05,43.10 L264.17,42.41 L264.30,41.72 L264.44,41.03 L264.60,40.34 L264.76,39.66 L264.94,38.98 L265.14,38.30 L265.34,37.63 L265.57,36.95 L265.81,36.29 L266.07,35.62 L266.35,34.96 L266.65,34.32 L267.00,33.79 L267.43,33.46 L267.96,33.43 L268.55,33.67 L269.14,34.12 L269.64,34.67 L270.03,35.27 L270.34,35.91 L270.58,36.58 L270.80,37.27 L270.99,37.96 L271.19,38.65 L271.38,39.34 L271.56,40.02 L271.75,40.71 L271.92,41.40 L272.10,42.08 L272.27,42.77 L272.44,43.45 L272.60,44.14 L272.77,44.82 L272.93,45.50 L273.08,46.19 L273.24,46.87 L273.39,47.55 L273.54,48.23 L273.69,48.91 L273.84,49.60 L273.98,50.28 L274.12,50.96 L274.27,51.64 L274.41,52.32 L274.55,53.00 L274.69,53.69 L274.82,54.37 L274.96,55.05 L275.10,55.73 L275.23,56.41 L275.37,57.10 L275.51,57.78 L275.64,58.46 L275.78,59.14 L275.92,59.83 L276.06,60.51 L276.19,61.20 L276.33,61.88 L276.47,62.57 L276.62,63.25 L276.76,63.94 L276.90,64.62 L277.05,65.31 L277.20,66.00 L277.35,66.68 L277.50,67.37 L277.65,68.05 L277.81,68.74 L277.96,69.42 L278.12,70.11 L278.29,70.79 L278.45,71.48 L278.62,72.16 L278.79,72.84 L278.97,73.52 L279.15,74.20 L279.33,74.87 L279.52,75.55 L279.70,76.22 L279.90,76.90 L280.10,77.57 L280.31,78.23 L280.52,78.90 L280.75,79.55 L281.00,80.21 L281.25,80.85 L281.53,81.49 L281.82,82.12 L282.14,82.75 L282.47,83.36 L282.83,83.96 L283.20,84.56 L283.59,85.16 L283.98,85.74 L284.38,86.33 L284.78,86.92 L285.18,87.50 L285.58,88.09 L285.97,88.68 L286.34,89.28 L286.71,89.88 L287.06,90.48 L287.39,91.09 L287.72,91.71 L288.03,92.33 L288.33,92.95 L288.63,93.58 L288.91,94.22 L289.18,94.85 L289.44,95.50 L289.69,96.14 L289.93,96.79 L290.16,97.44 L290.38,98.10 L290.59,98.76 L290.80,99.42 L291.00,100.09 L291.19,100.75 L291.37,101.43 L291.54,102.10 L291.71,102.78 L291.87,103.46 L292.03,104.14 L292.18,104.82 L292.32,105.51 L292.46,106.19 L292.59,106.88 L292.72,107.57 L292.84,108.27 L292.96,108.96 L293.08,109.65 L293.19,110.35 L293.30,111.05 L293.40,111.75 L293.51,112.44 L293.61,113.14 L293.71,113.84 L293.80,114.54 L293.90,115.24 L293.99,115.94 L294.09,116.64 L294.18,117.34 L294.27,118.04 L294.37,118.74 L294.46,119.44 L294.55,120.14 L294.64,120.84 L294.74,121.54 L294.83,122.23 L294.92,122.93 L295.01,123.63 L295.10,124.32 L295.19,125.02 L295.29,125.72 L295.38,126.41 L295.47,127.11 L295.56,127.80 L295.65,128.50 L295.74,129.19 L295.83,129.89 L295.92,130.58 L296.01,131.28 L296.10,131.97 L296.19,132.66 L296.28,133.36 L296.37,134.05 L296.46,134.74 L296.55,135.44 L296.64,136.13 L296.72,136.82 L296.81,137.52 L296.90,138.21 L296.99,138.90 L297.08,139.59 L297.16,140.28 L297.25,140.98 L297.34,141.67 L297.42,142.36 L297.51,143.05 L297.60,143.74 L297.68,144.44 L297.77,145.13 L297.86,145.82 L297.94,146.51 L298.03,147.20 L298.11,147.89 L298.20,148.59 L298.28,149.28 L298.36,149.97 L298.45,150.66 L298.53,151.35 L298.62,152.04 L298.70,152.73 L298.78,153.43 L298.86,154.12 L298.95,154.81 L299.03,155.50 L299.11,156.19 L299.19,156.89 L299.27,157.58 L299.35,158.27 L299.43,158.96 L299.51,159.66 L299.59,160.35 L299.67,161.04 L299.75,161.74 L299.83,162.43 L299.91,163.12 L299.99,163.82 L300.07,164.51 L300.15,165.20 L300.22,165.90 L300.30,166.59 L300.38,167.28 L300.46,167.98 L300.53,168.67 L300.61,169.37 L300.69,170.06 L300.76,170.76 L300.84,171.45 L300.91,172.15 L300.99,172.84 L301.06,173.53 L301.14,174.23 L301.21,174.93 L301.29,175.62 L301.36,176.32 L301.44,177.01 L301.51,177.71 L301.58,178.40 L301.66,179.10 L301.73,179.79 L301.80,180.49 L301.88,181.19 L301.95,181.88 L302.02,182.58 L302.10,183.27 L302.17,183.97 L302.24,184.67 L302.31,185.36 L302.38,186.06 L302.46,186.75 L302.53,187.45 L302.60,188.15 L302.67,188.84 L302.74,189.54 L302.81,190.24 L302.88,190.93 L302.96,191.63 L303.03,192.33 L303.10,193.03 L303.17,193.72 L303.24,194.42 L303.31,195.12 L303.38,195.81 L303.45,196.51 L303.52,197.21 L303.59,197.90 L303.66,198.60 L303.73,199.30 L303.80,200.00 L303.87,200.69 L303.94,201.39 L304.01,202.09 L304.08,202.79 L304.15,203.48 L304.22,204.18 L304.29,204.88 L304.36,205.58 L304.42,206.27 L304.49,206.97 L304.56,207.67 L304.63,208.37 L304.70,209.06 L304.77,209.76 L304.84,210.46 L304.91,211.16 L304.98,211.85 L305.05,212.55 L305.12,213.25 L305.19,213.95 L305.26,214.64 L305.33,215.34 L305.40,216.04 L305.47,216.73 L305.53,217.43 L305.60,218.13 L305.67,218.83 L305.74,219.52 L305.81,220.22 L305.88,220.92 L305.95,221.62 L306.02,222.31 L306.09,223.01 L306.16,223.71 L306.23,224.41 L306.30,225.10 L306.37,225.80 L306.44,226.50 L306.51,227.19 L306.58,227.89 L306.65,228.59 L306.72,229.28 L306.79,229.98 L306.87,230.68 L306.94,231.37 L307.01,232.07 L307.08,232.77 L307.15,233.46 L307.22,234.16 L307.29,234.86 L307.36,235.55 L307.44,236.25 L307.51,236.95 L307.58,237.64 L307.65,238.34 L307.73,239.04 L307.80,239.73 L307.87,240.43 L307.94,241.12 L308.02,241.82 L308.09,242.51 L308.16,243.21 L308.24,243.91 L308.31,244.60 L308.38,245.30 L308.46,245.99 L308.53,246.69 L308.61,247.38 L308.68,248.08 L308.76,248.77 L308.83,249.47 L308.91,250.16 L308.98,250.86 L309.06,251.55 L309.14,252.24 L309.21,252.94 L309.29,253.63 L309.37,254.33 L309.44,255.02 L309.52,255.72 L309.60,256.41 L309.68,257.10 L309.75,257.80 L309.83,258.49 L309.91,259.19 L309.99,259.88 L310.07,260.57 L310.15,261.27 L310.23,261.96 L310.31,262.66 L310.39,263.35 L310.47,264.04 L310.55,264.74 L310.63,265.43 L310.72,266.12 L310.80,266.82 L310.88,267.51 L310.96,268.20 L311.05,268.90 L311.13,269.59 L311.21,270.29 L311.30,270.98 L311.38,271.67 L311.47,272.37 L311.55,273.06 L311.64,273.75 L311.73,274.45 L311.81,275.14 L311.90,275.83 L311.99,276.53 L312.08,277.22 L312.16,277.91 L312.25,278.61 L312.34,279.30 L312.43,280.00 L312.52,280.69 L312.61,281.38 L312.71,282.08 L312.80,282.77 L312.89,283.46 L312.98,284.16 L313.07,284.85 L313.17,285.55 L313.26,286.24 L313.36,286.93 L313.45,287.63 L313.55,288.32 L313.64,289.02 L313.74,289.71 L313.84,290.41 L313.93,291.10 L314.03,291.79 L314.13,292.49 L314.23,293.18 L314.33,293.88 L314.44,294.57 L314.54,295.26 L314.65,295.96 L314.76,296.65 L314.87,297.34 L314.99,298.03 L315.10,298.72 L315.22,299.41 L315.35,300.10 L315.48,300.79 L315.61,301.48 L315.74,302.17 L315.88,302.85 L316.03,303.53 L316.17,304.22 L316.33,304.90 L316.49,305.58 L316.65,306.26 L316.82,306.94 L316.99,307.61 L317.17,308.29 L317.36,308.96 L317.55,309.63 L317.75,310.30 L317.96,310.96 L318.17,311.63 L318.39,312.29 L318.62,312.95 L318.85,313.61 L319.09,314.27 L319.34,314.92 L319.60,315.58 L319.87,316.23 L320.14,316.87 L320.43,317.52 L320.72,318.16 L321.02,318.80 L321.34,319.44 L321.66,320.07 L321.99,320.70 L322.33,321.33 L322.69,321.95 L323.06,322.55 L323.47,323.12 L323.90,323.66 L324.37,324.15 L324.88,324.59 L325.43,324.97 L326.05,325.28 L326.72,325.51 L327.45,325.65 L328.26,325.69 L328.60,328.60" stroke="#14a531"/>
<path d="M293.80,328.60 L295.32,325.33 L296.03,325.00 L296.70,324.64 L297.34,324.26 L297.94,323.86 L298.51,323.43 L299.05,322.99 L299.56,322.52 L300.05,322.03 L300.50,321.52 L300.93,320.99 L301.34,320.45 L301.72,319.88 L302.08,319.31 L302.42,318.72 L302.74,318.11 L303.04,317.50 L303.32,316.87 L303.59,316.24 L303.84,315.59 L304.08,314.93 L304.31,314.27 L304.52,313.60 L304.72,312.93 L304.92,312.25 L305.11,311.57 L305.29,310.88 L305.47,310.20 L305.64,309.51 L305.81,308.83 L305.98,308.14 L306.14,307.45 L306.30,306.76 L306.45,306.08 L306.60,305.39 L306.75,304.70 L306.90,304.01 L307.04,303.32 L307.18,302.63 L307.32,301.94 L307.45,301.25 L307.58,300.56 L307.71,299.87 L307.83,299.18 L307.95,298.49 L308.07,297.80 L308.19,297.11 L308.30,296.42 L308.41,295.72 L308.52,295.03 L308.62,294.34 L308.73,293.65 L308.83,292.95 L308.93,292.26 L309.03,291.57 L309.12,290.87 L309.21,290.18 L309.30,289.49 L309.39,288.79 L309.48,288.10 L309.56,287.40 L309.65,286.71 L309.73,286.02 L309.81,285.32 L309.89,284.63 L309.96,283.93 L310.04,283.24 L310.11,282.54 L310.18,281.84 L310.26,281.15 L310.33,280.45 L310.39,279.76 L310.46,279.06 L310.53,278.37 L310.59,277.67 L310.66,276.97 L310.72,276.28 L310.79,275.58 L310.85,274.88 L310.91,274.19 L310.97,273.49 L311.03,272.79 L311.09,272.10 L311.15,271.40 L311.21,270.70 L311.27,270.01 L311.32,269.31 L311.38,268.61 L311.44,267.92 L311.50,267.22 L311.56,266.52 L311.61,265.83 L311.67,265.13 L311.73,264.43 L311.79,263.73 L311.84,263.04 L311.90,262.34 L311.96,261.64 L312.01,260.95 L312.07,260.25 L312.13,259.55 L312.18,258.86 L312.24,258.16 L312.30,257.46 L312.35,256.76 L312.41,256.07 L312.47,255.37 L312.52,254.67 L312.58,253.98 L312.64,253.28 L312.69,252.58 L312.75,251.88 L312.80,251.19 L312.86,250.49 L312.92,249.79 L312.97,249.09 L313.03,248.40 L313.08,247.70 L313.14,247.00 L313.19,246.31 L313.25,245.61 L313.31,244.91 L313.36,244.21 L313.42,243.52 L313.47,242.82 L313.53,242.12 L313.58,241.42 L313.64,240.73 L313.69,240.03 L313.75,239.33 L313.80,238.63 L313.86,237.94 L313.91,237.24 L313.97,236.54 L314.02,235.84 L314.08,235.15 L314.13,234.45 L314.19,233.75 L314.24,233.05 L314.30,232.36 L314.35,231.66 L314.40,230.96 L314.46,230.26 L314.51,229.57 L314.57,228.87 L314.62,228.17 L314.68,227.47 L314.73,226.78 L314.79,226.08 L314.84,225.38 L314.89,224.68 L314.95,223.99 L315.00,223.29 L315.06,222.59 L315.11,221.89 L315.16,221.19 L315.22,220.50 L315.27,219.80 L315.33,219.10 L315.38,218.40 L315.43,217.71 L315.49,217.01 L315.54,216.31 L315.60,215.61 L315.65,214.92 L315.70,214.22 L315.76,213.52 L315.81,212.82 L315.87,212.12 L315.92,211.43 L315.97,210.73 L316.03,210.03 L316.08,209.33 L316.14,208.64 L316.19,207.94 L316.24,207.24 L316.30,206.54 L316.35,205.84 L316.40,205.15 L316.46,204.45 L316.51,203.75 L316.57,203.05 L316.62,202.35 L316.67,201.66 L316.73,200.96 L316.78,200.26 L316.83,199.56 L316.89,198.87 L316.94,198.17 L317.00,197.47 L317.05,196.77 L317.10,196.07 L317.16,195.38 L317.21,194.68 L317.26,193.98 L317.32,193.28 L317.37,192.58 L317.43,191.89 L317.48,191.19 L317.53,190.49 L317.59,189.79 L317.64,189.10 L317.70,188.40 L317.75,187.70 L317.80,187.00 L317.86,186.30 L317.91,185.61 L317.97,184.91 L318.02,184.21 L318.07,183.51 L318.13,182.81 L318.18,182.12 L318.24,181.42 L318.29,180.72 L318.34,180.02 L318.40,179.32 L318.45,178.63 L318.51,177.93 L318.56,177.23 L318.62,176.53 L318.67,175.83 L318.72,175.14 L318.78,174.44 L318.83,173.74 L318.89,173.04 L318.94,172.34 L319.00,171.65 L319.05,170.95 L319.11,170.25 L319.16,169.55 L319.21,168.86 L319.27,168.16 L319.32,167.46 L319.38,166.76 L319.43,166.06 L319.49,165.37 L319.54,164.67 L319.60,163.97 L319.65,163.27 L319.71,162.57 L319.76,161.88 L319.82,161.18 L319.87,160.48 L319.93,159.78 L319.99,159.08 L320.04,158.39 L320.10,157.69 L320.15,156.99 L320.21,156.29 L320.26,155.59 L320.32,154.90 L320.37,154.20 L320.43,153.50 L320.49,152.80 L320.54,152.11 L320.60,151.41 L320.65,150.71 L320.71,150.01 L320.77,149.31 L320.82,148.62 L320.88,147.92 L320.94,147.22 L320.99,146.52 L321.05,145.82 L321.11,145.13 L321.16,144.43 L321.22,143.73 L321.28,143.03 L321.33,142.34 L321.39,141.64 L321.45,140.94 L321.50,140.24 L321.56,139.54 L321.62,138.85 L321.68,138.15 L321.73,137.45 L321.79,136.75 L321.85,136.06 L321.91,135.36 L321.96,134.66 L322.02,133.96 L322.08,133.26 L322.14,132.57 L322.20,131.87 L322.25,131.17 L322.31,130.47 L322.37,129.78 L322.43,129.08 L322.49,128.38 L322.55,127.68 L322.60,126.98 L322.66,126.29 L322.72,125.59 L322.78,124.89 L322.84,124.19 L322.90,123.50 L322.96,122.80 L323.02,122.10 L323.08,121.40 L323.14,120.71 L323.20,120.01 L323.26,119.31 L323.32,118.61 L323.38,117.92 L323.44,117.22 L323.50,116.52 L323.56,115.82 L323.62,115.13 L323.68,114.43 L323.74,113.73 L323.80,113.03 L323.86,112.34 L323.92,111.64 L323.98,110.94 L324.04,110.24 L324.11,109.55 L324.17,108.85 L324.23,108.15 L324.29,107.45 L324.35,106.76 L324.41,106.06 L324.48,105.36 L324.54,104.66 L324.60,103.97 L324.66,103.27 L324.73,102.57 L324.79,101.87 L324.85,101.18 L324.91,100.48 L324.98,99.78 L325.04,99.09 L325.10,98.39 L325.17,97.69 L325.23,96.99 L325.29,96.30 L325.36,95.60 L325.42,94.90 L325.49,94.20 L325.55,93.51 L325.62,92.81 L325.68,92.11 L325.74,91.42 L325.81,90.72 L325.87,90.02 L325.94,89.33 L326.01,88.63 L326.07,87.93 L326.14,87.23 L326.20,86.54 L326.27,85.84 L326.33,85.14 L326.40,84.45 L326.47,83.75 L326.53,83.05 L326.60,82.36 L326.67,81.66 L326.74,80.97 L326.80,80.27 L326.87,79.57 L326.94,78.88 L327.01,78.18 L327.08,77.48 L327.14,76.79 L327.21,76.09 L327.28,75.40 L327.35,74.70 L327.42,74.00 L327.49,73.31 L327.56,72.61 L327.63,71.92 L327.70,71.22 L327.77,70.53 L327.84,69.83 L327.91,69.14 L327.98,68.44 L328.05,67.75 L328.13,67.05 L328.20,66.36 L328.27,65.66 L328.34,64.97 L328.41,64.27 L328.49,63.58 L328.56,62.88 L328.63,62.18 L328.70,61.49 L328.77,60.79 L328.83,60.08 L328.90,59.38 L328.96,58.67 L329.02,57.96 L329.09,57.26 L329.17,56.55 L329.27,55.85 L329.39,55.16 L329.55,54.49 L329.75,53.83 L329.99,53.19 L330.27,52.56 L330.58,51.94 L330.90,51.33 L331.24,50.72 L331.59,50.11 L331.93,49.50 L332.26,48.87 L332.56,48.23 L332.85,47.57 L333.12,46.90 L333.39,46.24 L333.67,45.59 L333.97,44.96 L334.30,44.35 L334.67,43.78 L335.09,43.25 L335.56,42.77 L336.10,42.34 L336.68,41.95 L337.27,41.56 L337.84,41.15 L338.37,40.70 L338.82,40.19 L339.22,39.63 L339.58,39.04 L339.92,38.43 L340.25,37.81 L340.59,37.19 L340.94,36.57 L341.30,35.94 L341.70,35.30 L342.13,34.65 L342.59,34.04 L343.08,33.59 L343.56,33.40 L344.03,33.55 L344.50,33.97 L344.94,34.53 L345.37,35.12 L345.79,35.73 L346.19,36.36 L346.58,36.98 L346.95,37.60 L347.31,38.21 L347.66,38.82 L347.99,39.43 L348.30,40.04 L348.60,40.65 L348.89,41.26 L349.16,41.89 L349.41,42.53 L349.65,43.17 L349.87,43.82 L350.08,44.48 L350.28,45.15 L350.47,45.82 L350.64,46.50 L350.81,47.18 L350.98,47.86 L351.13,48.55 L351.28,49.24 L351.43,49.94 L351.57,50.63 L351.71,51.33 L351.86,52.02 L352.00,52.71 L352.14,53.41 L352.29,54.10 L352.43,54.78 L352.58,55.47 L352.74,56.15 L352.89,56.83 L353.05,57.51 L353.21,58.19 L353.37,58.86 L353.53,59.54 L353.69,60.22 L353.85,60.89 L354.01,61.57 L354.17,62.24 L354.33,62.92 L354.49,63.60 L354.64,64.28 L354.80,64.96 L354.95,65.65 L355.10,66.33 L355.25,67.02 L355.40,67.70 L355.55,68.39 L355.71,69.08 L355.87,69.76 L356.03,70.44 L356.21,71.12 L356.39,71.80 L356.58,72.47 L356.78,73.14 L356.99,73.81 L357.22,74.47 L357.46,75.12 L357.71,75.77 L357.98,76.41 L358.27,77.05 L358.57,77.68 L358.89,78.30 L359.20,78.93 L359.52,79.55 L359.83,80.18 L360.13,80.81 L360.41,81.44 L360.68,82.09 L360.94,82.73 L361.19,83.39 L361.43,84.04 L361.66,84.70 L361.88,85.37 L362.09,86.03 L362.30,86.70 L362.49,87.38 L362.68,88.05 L362.87,88.73 L363.05,89.41 L363.22,90.09 L363.39,90.77 L363.56,91.46 L363.73,92.14 L363.89,92.82 L364.06,93.51 L364.22,94.19 L364.38,94.88 L364.54,95.56 L364.69,96.25 L364.85,96.93 L365.00,97.62 L365.15,98.30 L365.30,98.99 L365.45,99.67 L365.60,100.36 L365.75,101.04 L365.89,101.73 L366.04,102.42 L366.18,103.10 L366.32,103.79 L366.46,104.47 L366.60,105.16 L366.74,105.85 L366.87,106.54 L367.01,107.22 L367.14,107.91 L367.27,108.60 L367.41,109.29 L367.54,109.97 L367.66,110.66 L367.79,111.35 L367.92,112.04 L368.04,112.73 L368.17,113.42 L368.29,114.10 L368.41,114.79 L368.53,115.48 L368.65,116.17 L368.77,116.86 L368.88,117.55 L369.00,118.24 L369.11,118.93 L369.23,119.62 L369.34,120.31 L369.45,121.00 L369.56,121.69 L369.67,122.38 L369.78,123.07 L369.89,123.76 L369.99,124.45 L370.10,125.14 L370.20,125.83 L370.31,126.52 L370.41,127.21 L370.51,127.91 L370.61,128.60 L370.71,129.29 L370.81,129.98 L370.91,130.67 L371.01,131.36 L371.10,132.05 L371.20,132.75 L371.29,133.44 L371.39,134.13 L371.48,134.82 L371.57,135.52 L371.66,136.21 L371.75,136.90 L371.84,137.59 L371.93,138.29 L372.02,138.98 L372.11,139.67 L372.19,140.37 L372.28,141.06 L372.36,141.75 L372.45,142.45 L372.53,143.14 L372.62,143.83 L372.70,144.53 L372.78,145.22 L372.86,145.91 L372.94,146.61 L373.02,147.30 L373.10,148.00 L373.18,148.69 L373.26,149.38 L373.33,150.08 L373.41,150.77 L373.49,151.47 L373.56,152.16 L373.64,152.86 L373.71,153.55 L373.79,154.25 L373.86,154.94 L373.93,155.64 L374.01,156.33 L374.08,157.03 L374.15,157.72 L374.22,158.42 L374.29,159.11 L374.36,159.81 L374.43,160.50 L374.50,161.20 L374.57,161.89 L374.64,162.59 L374.71,163.29 L374.78,163.98 L374.85,164.68 L374.92,165.37 L374.98,166.07 L375.05,166.77 L375.12,167.46 L375.18,168.16 L375.25,168.85 L375.32,169.55 L375.38,170.25 L375.45,170.94 L375.51,171.64 L375.58,172.33 L375.64,173.03 L375.71,173.73 L375.77,174.42 L375.84,175.12 L375.90,175.82 L375.96,176.51 L376.03,177.21 L376.09,177.91 L376.16,178.60 L376.22,179.30 L376.28,180.00 L376.35,180.69 L376.41,181.39 L376.47,182.09 L376.54,182.78 L376.60,183.48 L376.66,184.18 L376.73,184.88 L376.79,185.57 L376.85,186.27 L376.91,186.97 L376.98,187.66 L377.04,188.36 L377.10,189.06 L377.17,189.75 L377.23,190.45 L377.30,191.15 L377.36,191.85 L377.42,192.54 L377.49,193.24 L377.55,193.94 L377.62,194.63 L377.68,195.33 L377.74,196.03 L377.81,196.73 L377.87,197.42 L377.94,198.12 L378.01,198.82 L378.07,199.52 L378.14,200.21 L378.20,200.91 L378.27,201.61 L378.34,202.30 L378.40,203.00 L378.47,203.70 L378.54,204.40 L378.61,205.09 L378.67,205.79 L378.74,206.49 L378.81,207.18 L378.88,207.88 L378.95,208.58 L379.02,209.28 L379.09,209.97 L379.16,210.67 L379.23,211.37 L379.30,212.06 L379.37,212.76 L379.44,213.46 L379.52,214.16 L379.59,214.85 L379.66,215.55 L379.73,216.25 L379.81,216.94 L379.88,217.64 L379.95,218.34 L380.03,219.03 L380.10,219.73 L380.18,220.43 L380.25,221.12 L380.33,221.82 L380.40,222.52 L380.48,223.21 L380.55,223.91 L380.63,224.61 L380.71,225.30 L380.78,226.00 L380.86,226.70 L380.94,227.39 L381.02,228.09 L381.10,228.78 L381.17,229.48 L381.25,230.18 L381.33,230.87 L381.41,231.57 L381.49,232.27 L381.57,232.96 L381.65,233.66 L381.74,234.35 L381.82,235.05 L381.90,235.74 L381.98,236.44 L382.06,237.14 L382.15,237.83 L382.23,238.53 L382.31,239.22 L382.40,239.92 L382.48,240.61 L382.57,241.31 L382.65,242.00 L382.74,242.70 L382.82,243.39 L382.91,244.09 L383.00,244.78 L383.08,245.48 L383.17,246.17 L383.26,246.87 L383.35,247.56 L383.43,248.26 L383.52,248.95 L383.61,249.64 L383.70,250.34 L383.79,251.03 L383.88,251.73 L383.97,252.42 L384.06,253.11 L384.16,253.81 L384.25,254.50 L384.34,255.20 L384.43,255.89 L384.52,256.58 L384.62,257.28 L384.71,257.97 L384.81,258.66 L384.90,259.35 L385.00,260.05 L385.09,260.74 L385.19,261.43 L385.28,262.13 L385.38,262.82 L385.48,263.51 L385.57,264.20 L385.67,264.89 L385.77,265.59 L385.87,266.28 L385.97,266.97 L386.07,267.66 L386.17,268.35 L386.27,269.05 L386.37,269.74 L386.47,270.43 L386.57,271.12 L386.67,271.81 L386.78,272.50 L386.88,273.19 L386.98,273.88 L387.09,274.57 L387.19,275.26 L387.29,275.95 L387.40,276.64 L387.51,277.33 L387.61,278.02 L387.72,278.71 L387.82,279.40 L387.93,280.09 L388.04,280.78 L388.15,281.47 L388.26,282.16 L388.36,282.85 L388.47,283.54 L388.58,284.23 L388.69,284.92 L388.81,285.60 L388.92,286.29 L389.03,286.98 L389.14,287.67 L389.25,288.36 L389.37,289.04 L389.48,289.73 L389.59,290.42 L389.71,291.11 L389.82,291.79 L389.94,292.48 L390.06,293.17 L390.18,293.85 L390.30,294.54 L390.42,295.22 L390.54,295.91 L390.67,296.59 L390.80,297.28 L390.93,297.96 L391.06,298.65 L391.20,299.33 L391.34,300.02 L391.48,300.70 L391.63,301.38 L391.78,302.07 L391.94,302.75 L392.10,303.43 L392.26,304.11 L392.43,304.79 L392.60,305.47 L392.77,306.15 L392.96,306.83 L393.14,307.51 L393.34,308.19 L393.54,308.87 L393.74,309.55 L393.95,310.22 L394.17,310.90 L394.39,311.58 L394.62,312.25 L394.86,312.92 L395.10,313.59 L395.36,314.26 L395.63,314.92 L395.91,315.57 L396.21,316.22 L396.52,316.85 L396.85,317.47 L397.19,318.08 L397.56,318.67 L397.95,319.25 L398.36,319.81 L398.79,320.35 L399.25,320.86 L399.73,321.36 L400.25,321.83 L400.79,322.28 L401.35,322.72 L401.92,323.14 L402.49,323.55 L403.06,323.96 L403.62,324.38 L404.16,324.81 L404.67,325.26 L405.13,325.74 L405.48,326.29 L405.66,326.96 L405.61,327.79 L407.00,328.60" stroke="#f8262a"/>
</g>
<rect x="59.04" y="18.45" width="364.26" height="324.75" fill="none" stroke="#222" stroke-width="1.1"/>
<path d="M55.04,328.25H59.04M55.04,269.26H59.04M55.04,210.27H59.04M55.04,151.28H59.04M55.04,92.29H59.04M55.04,33.30H59.04M105.40,343.20V347.00M161.20,343.20V347.00M217.00,343.20V347.00M272.80,343.20V347.00M328.60,343.20V347.00M384.40,343.20V347.00" stroke="#111" stroke-width="1.0" fill="none"/>
<text transform="translate(51.1,333.75) scale(0.940,1)" font-size="16.0" text-anchor="end">0.0</text>
<text transform="translate(51.1,274.76) scale(0.940,1)" font-size="16.0" text-anchor="end">0.2</text>
<text transform="translate(51.1,215.77) scale(0.940,1)" font-size="16.0" text-anchor="end">0.4</text>
<text transform="translate(51.1,156.78) scale(0.940,1)" font-size="16.0" text-anchor="end">0.6</text>
<text transform="translate(51.1,97.79) scale(0.940,1)" font-size="16.0" text-anchor="end">0.8</text>
<text transform="translate(51.1,38.80) scale(0.940,1)" font-size="16.0" text-anchor="end">1.0</text>
<text transform="translate(105.40,362.1) scale(0.940,1)" font-size="16.0" text-anchor="middle">8.5</text>
<text transform="translate(161.20,362.1) scale(0.940,1)" font-size="16.0" text-anchor="middle">9.0</text>
<text transform="translate(217.00,362.1) scale(0.940,1)" font-size="16.0" text-anchor="middle">9.5</text>
<text transform="translate(272.80,362.1) scale(0.940,1)" font-size="16.0" text-anchor="middle">10.0</text>
<text transform="translate(328.60,362.1) scale(0.940,1)" font-size="16.0" text-anchor="middle">10.5</text>
<text transform="translate(384.40,362.1) scale(0.940,1)" font-size="16.0" text-anchor="middle">11.0</text>
<text transform="translate(241.1,381.6) scale(1.053,1)" font-size="15.8" text-anchor="middle">Wavelength (μm)</text>
<text transform="translate(24.0,180.6) rotate(-90) scale(1.056,1)" font-size="15.8" text-anchor="middle">Spectral Response</text>
<rect x="430.8" y="26.4" width="97.4" height="95.5" rx="2.5" fill="#fff" fill-opacity="0.8" stroke="#e0e0e0" stroke-width="1.4"/>
<path d="M436,37.95H468.3" stroke="#0e80bc" stroke-width="2.00"/>
<text transform="translate(479.9,43.00) scale(1.038,1)" font-size="15.4">Band1</text>
<path d="M436,61.00H468.3" stroke="#ff8b17" stroke-width="2.00"/>
<text transform="translate(479.9,66.05) scale(1.038,1)" font-size="15.4">Band2</text>
<path d="M436,84.05H468.3" stroke="#14a531" stroke-width="2.00"/>
<text transform="translate(479.9,89.10) scale(1.038,1)" font-size="15.4">Band3</text>
<path d="M436,107.10H468.3" stroke="#f8262a" stroke-width="2.00"/>
<text transform="translate(479.9,112.15) scale(1.038,1)" font-size="15.4">Band4</text>
</svg></body></html>
